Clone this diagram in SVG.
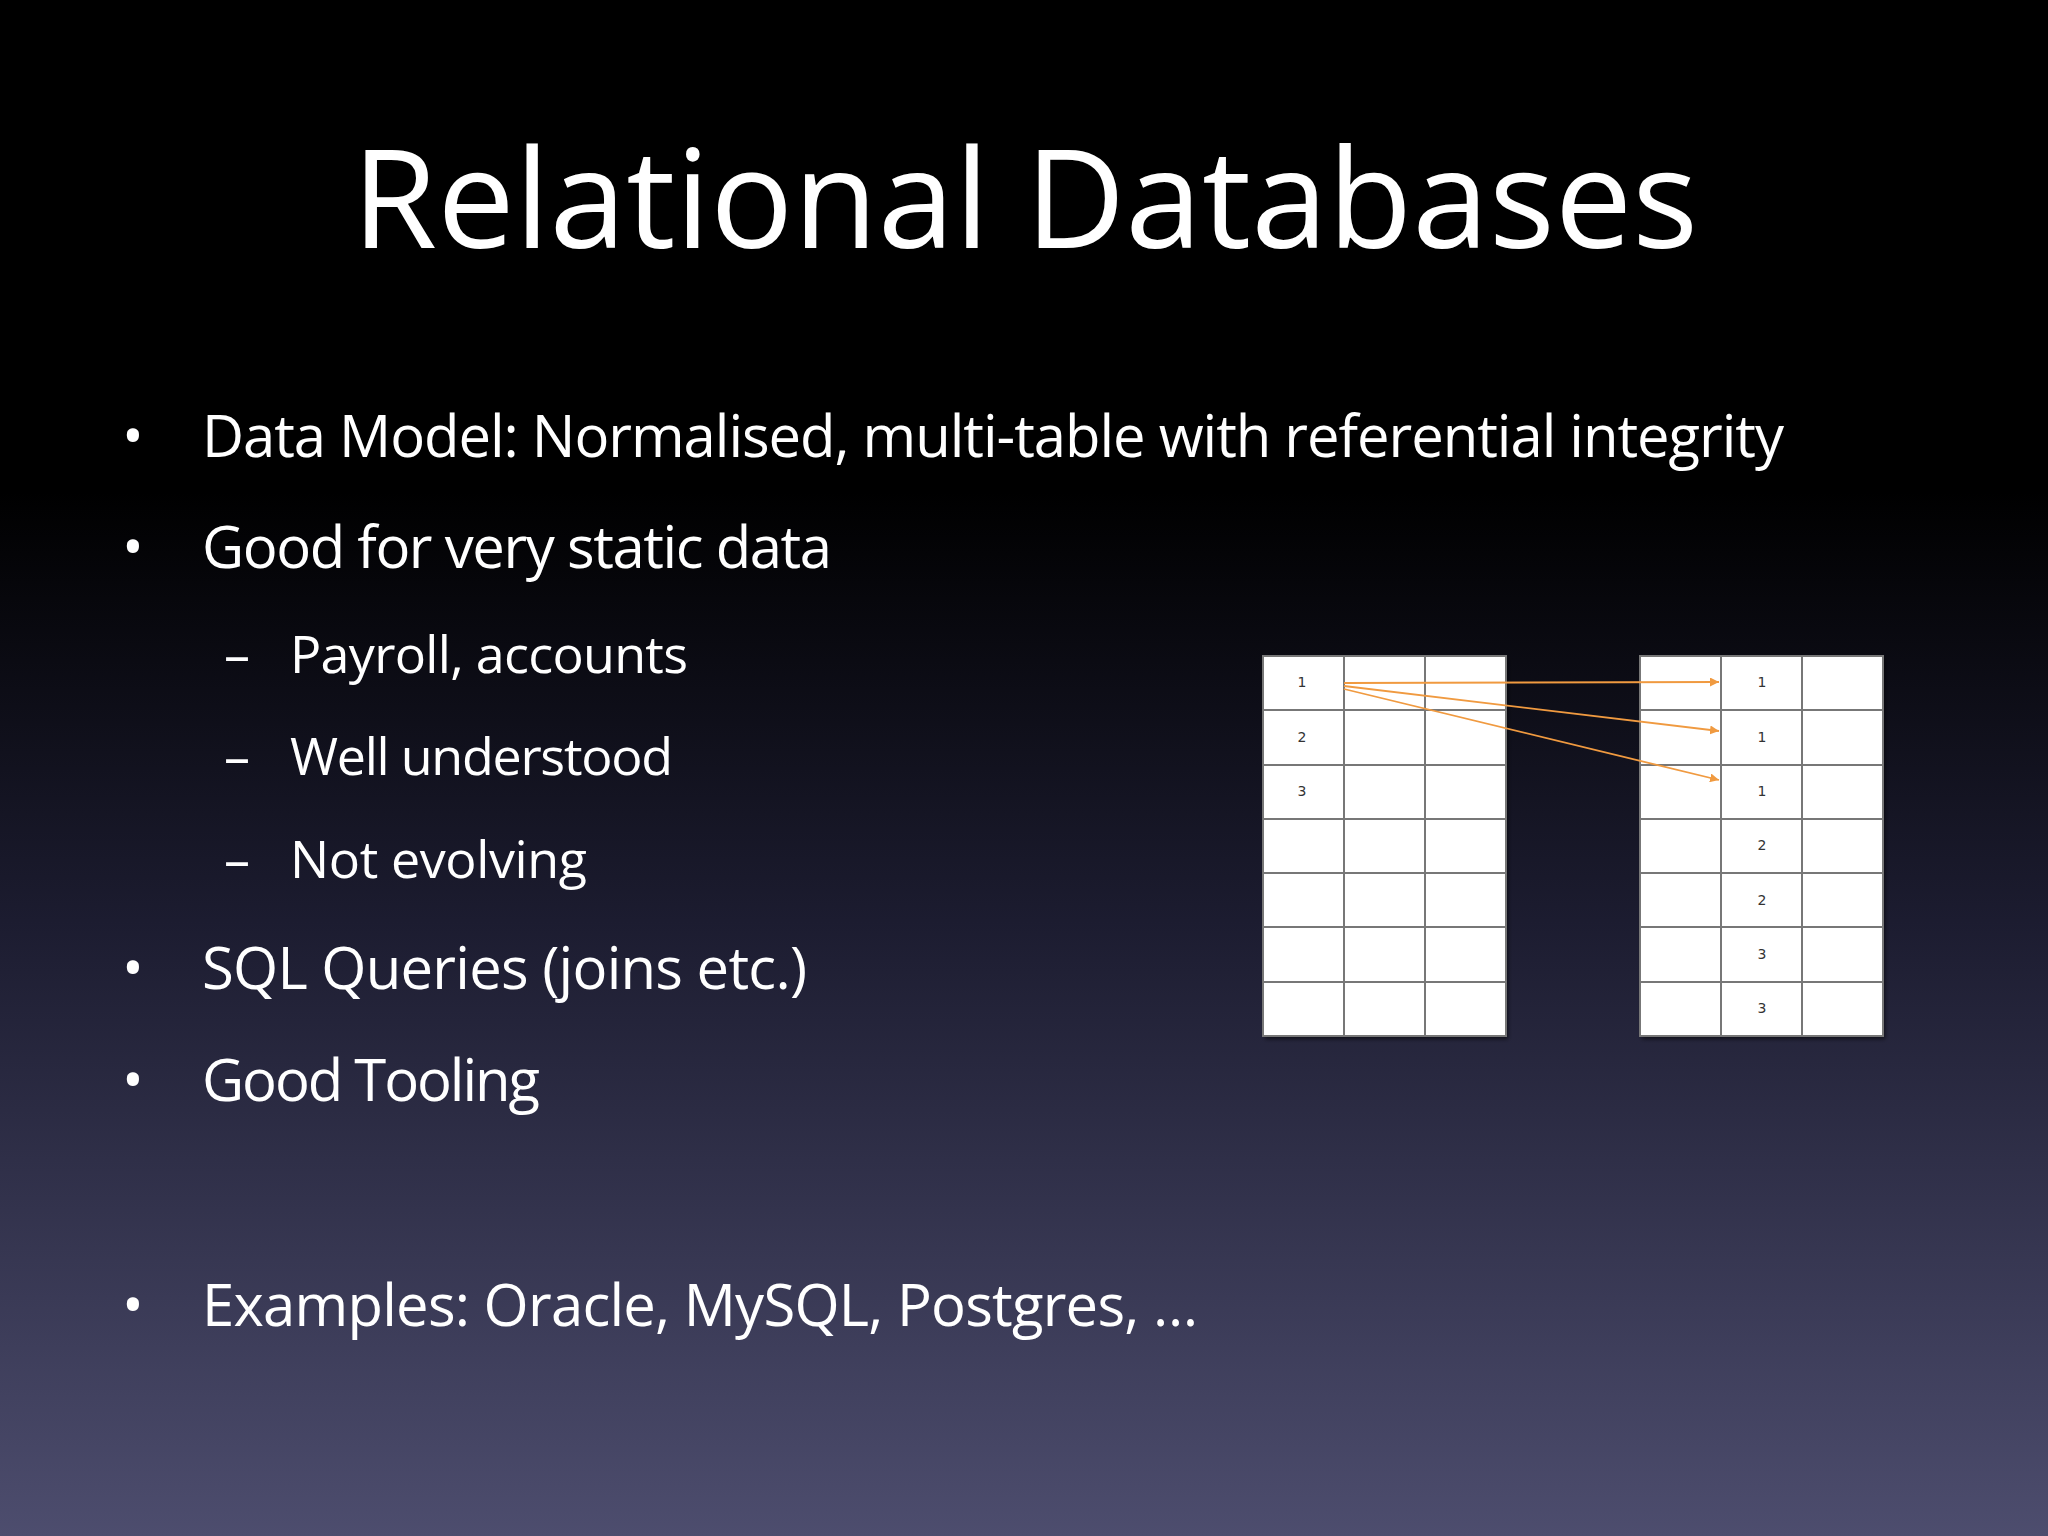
<svg xmlns="http://www.w3.org/2000/svg" width="2048" height="1536" viewBox="0 0 2048 1536">
<defs>
<linearGradient id="bg" x1="0" y1="0" x2="0" y2="1">
<stop offset="0" stop-color="#000"/><stop offset="0.32" stop-color="#000"/><stop offset="0.6" stop-color="#1c1c30"/><stop offset="1" stop-color="#4d4d6e"/>
</linearGradient>
<marker id="ah" viewBox="0 0 10 10" refX="10" refY="5" markerWidth="5" markerHeight="5" orient="auto"><path d="M0,0L10,5L0,10z" fill="#f09a40"/></marker>
<filter id="sh"><feDropShadow dx="2" dy="3" stdDeviation="2" flood-opacity="0.6"/></filter>
</defs>
<style>
.t{font-family:"Open Sans","Liberation Sans",sans-serif;fill:#fff}
.b{font-size:58px}.s{font-size:52px}
.n{font-family:"DejaVu Sans",sans-serif;font-size:14px;fill:#333;text-anchor:middle}
.g{stroke:#777;stroke-width:2;fill:none}
</style>
<rect width="2048" height="1536" fill="url(#bg)"/>
<text class="t" x="1025" y="248" font-size="138" text-anchor="middle">Relational Databases</text>
<g id="bullets">
<text class="t b" x="122" y="457">•</text><text class="t b" x="202" y="457" textLength="1582">Data Model: Normalised, multi-table with referential integrity</text>
<text class="t b" x="122" y="568">•</text><text class="t b" x="202" y="568" textLength="630">Good for very static data</text>
<text class="t s" x="224" y="673">–</text><text class="t s" x="290" y="673" textLength="398">Payroll, accounts</text>
<text class="t s" x="224" y="775">–</text><text class="t s" x="290" y="775" textLength="383">Well understood</text>
<text class="t s" x="224" y="878">–</text><text class="t s" x="290" y="878" textLength="297">Not evolving</text>
<text class="t b" x="122" y="989">•</text><text class="t b" x="202" y="989" textLength="605">SQL Queries (joins etc.)</text>
<text class="t b" x="122" y="1101">•</text><text class="t b" x="202" y="1101" textLength="338">Good Tooling</text>
<text class="t b" x="122" y="1326">•</text><text class="t b" x="202" y="1326" textLength="996">Examples: Oracle, MySQL, Postgres, …</text>
</g>
<g id="tableA">
<rect x="1263" y="656" width="243" height="380" fill="#fff" filter="url(#sh)"/>
<path class="g" d="M1263,656H1506V1036H1263Z M1344,656V1036 M1425,656V1036 M1263,710H1506 M1263,765H1506 M1263,819H1506 M1263,873H1506 M1263,927H1506 M1263,982H1506"/>
<text class="n" x="1302" y="687">1</text><text class="n" x="1302" y="742">2</text><text class="n" x="1302" y="796">3</text>
</g>
<g id="tableB">
<rect x="1640" y="656" width="243" height="380" fill="#fff" filter="url(#sh)"/>
<path class="g" d="M1640,656H1883V1036H1640Z M1721,656V1036 M1802,656V1036 M1640,710H1883 M1640,765H1883 M1640,819H1883 M1640,873H1883 M1640,927H1883 M1640,982H1883"/>
<text class="n" x="1762" y="687">1</text><text class="n" x="1762" y="742">1</text><text class="n" x="1762" y="796">1</text><text class="n" x="1762" y="850">2</text><text class="n" x="1762" y="905">2</text><text class="n" x="1762" y="959">3</text><text class="n" x="1762" y="1013">3</text>
</g>
<g id="connectors" stroke="#f09a40" stroke-width="1.8" fill="none" marker-end="url(#ah)">
<line x1="1344" y1="683" x2="1719" y2="682"/>
<line x1="1344" y1="686" x2="1719" y2="731"/>
<line x1="1344" y1="689" x2="1719" y2="780"/>
</g>
</svg>
